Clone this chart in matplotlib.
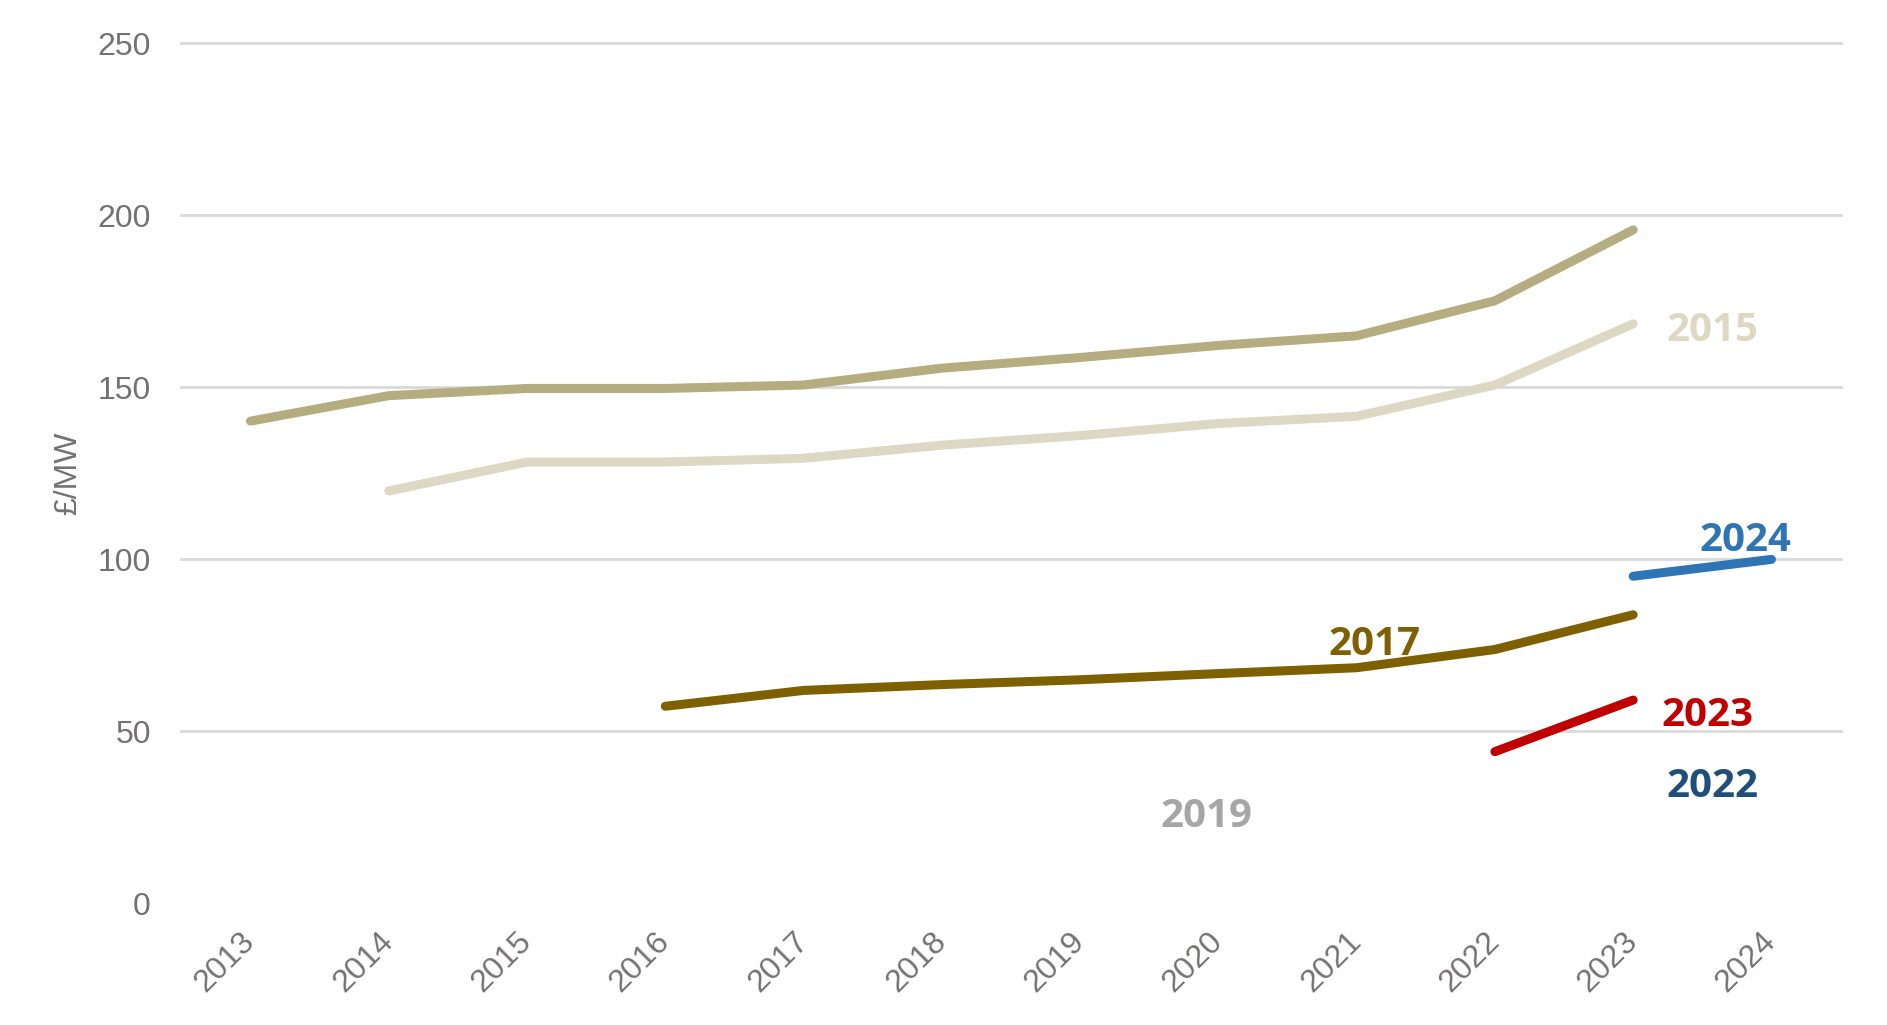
import matplotlib
matplotlib.use("Agg")
import matplotlib.pyplot as plt
import numpy as np

# Data (£/MW by year)
years = ["2013", "2014", "2015", "2016", "2017", "2018",
         "2019", "2020", "2021", "2022", "2023", "2024"]

# each series: (start index into years, values)
top_series = [140.2, 147.6, 149.7, 149.7, 150.7, 155.6,
              158.7, 162.2, 165.0, 175.2, 195.8]              # from 2013
series_2015 = [119.9, 128.3, 128.3, 129.4, 133.2,
               136.0, 139.5, 141.6, 150.7, 168.5]              # from 2014
series_2017 = [57.3, 61.9, 63.6, 65.0, 66.8, 68.5, 73.8, 83.9]  # from 2016
series_2023 = [44.1, 59.1]                                      # from 2022
series_2024 = [95.1, 100.0]                                     # from 2023

yticks = [0, 50, 100, 150, 200, 250]

TICK_GREY = "#767171"
GRID_GREY = "#D9D9D9"

plt.rcParams["font.family"] = ["Liberation Sans", "DejaVu Sans"]

fig = plt.figure(figsize=(18.87, 10.25), dpi=100)
ax = fig.add_axes([0.0961, 0.1187, 0.8793, 0.9576 - 0.1187])

x = np.arange(len(years))
lines = [
    (0, top_series, "#B5AD80"),
    (1, series_2015, "#DDD8C3"),
    (3, series_2017, "#7F6000"),
    (9, series_2023, "#C00000"),
    (10, series_2024, "#2E75B6"),
]
for start, vals, color in lines:
    ax.plot(x[start:start + len(vals)], vals, color=color, linewidth=6.5,
            solid_capstyle="round", solid_joinstyle="round", zorder=3)

ax.set_xlim(-0.5, len(years) - 0.5)
ax.set_ylim(0, 250)
ax.set_xticks(x)
ax.set_xticklabels(years, rotation=45, ha="right", va="center",
                   rotation_mode="anchor")
ax.set_yticks(yticks)
ax.tick_params(axis="both", length=0, labelsize=23, labelcolor=TICK_GREY)
ax.tick_params(axis="x", pad=24)
ax.tick_params(axis="y", pad=22)

ax.grid(axis="y", color=GRID_GREY, linewidth=2)
ax.yaxis.get_gridlines()[0].set_visible(False)
ax.set_axisbelow(True)
for s in ax.spines.values():
    s.set_visible(False)
for gl in ax.yaxis.get_gridlines():
    gl.set_clip_on(False)

ax.set_ylabel("£/MW", fontsize=23, color=TICK_GREY, labelpad=10)

# series labels
label_kw = dict(fontsize=29, fontweight="bold", family=["Open Sans", "DejaVu Sans"],
                ha="center", va="center", zorder=4)
ax.text(10.57, 166.5, "2015", color="#DDD8C3", **label_kw)
ax.text(10.81, 105.6, "2024", color="#2E75B6", **label_kw)
ax.text(8.13, 75.2, "2017", color="#7F6000", **label_kw)
ax.text(10.54, 54.6, "2023", color="#C00000", **label_kw)
ax.text(10.57, 34.0, "2022", color="#1F4E79", **label_kw)
ax.text(6.91, 25.2, "2019", color="#A6A6A6", **label_kw)

fig.savefig("out.png", dpi=100)
